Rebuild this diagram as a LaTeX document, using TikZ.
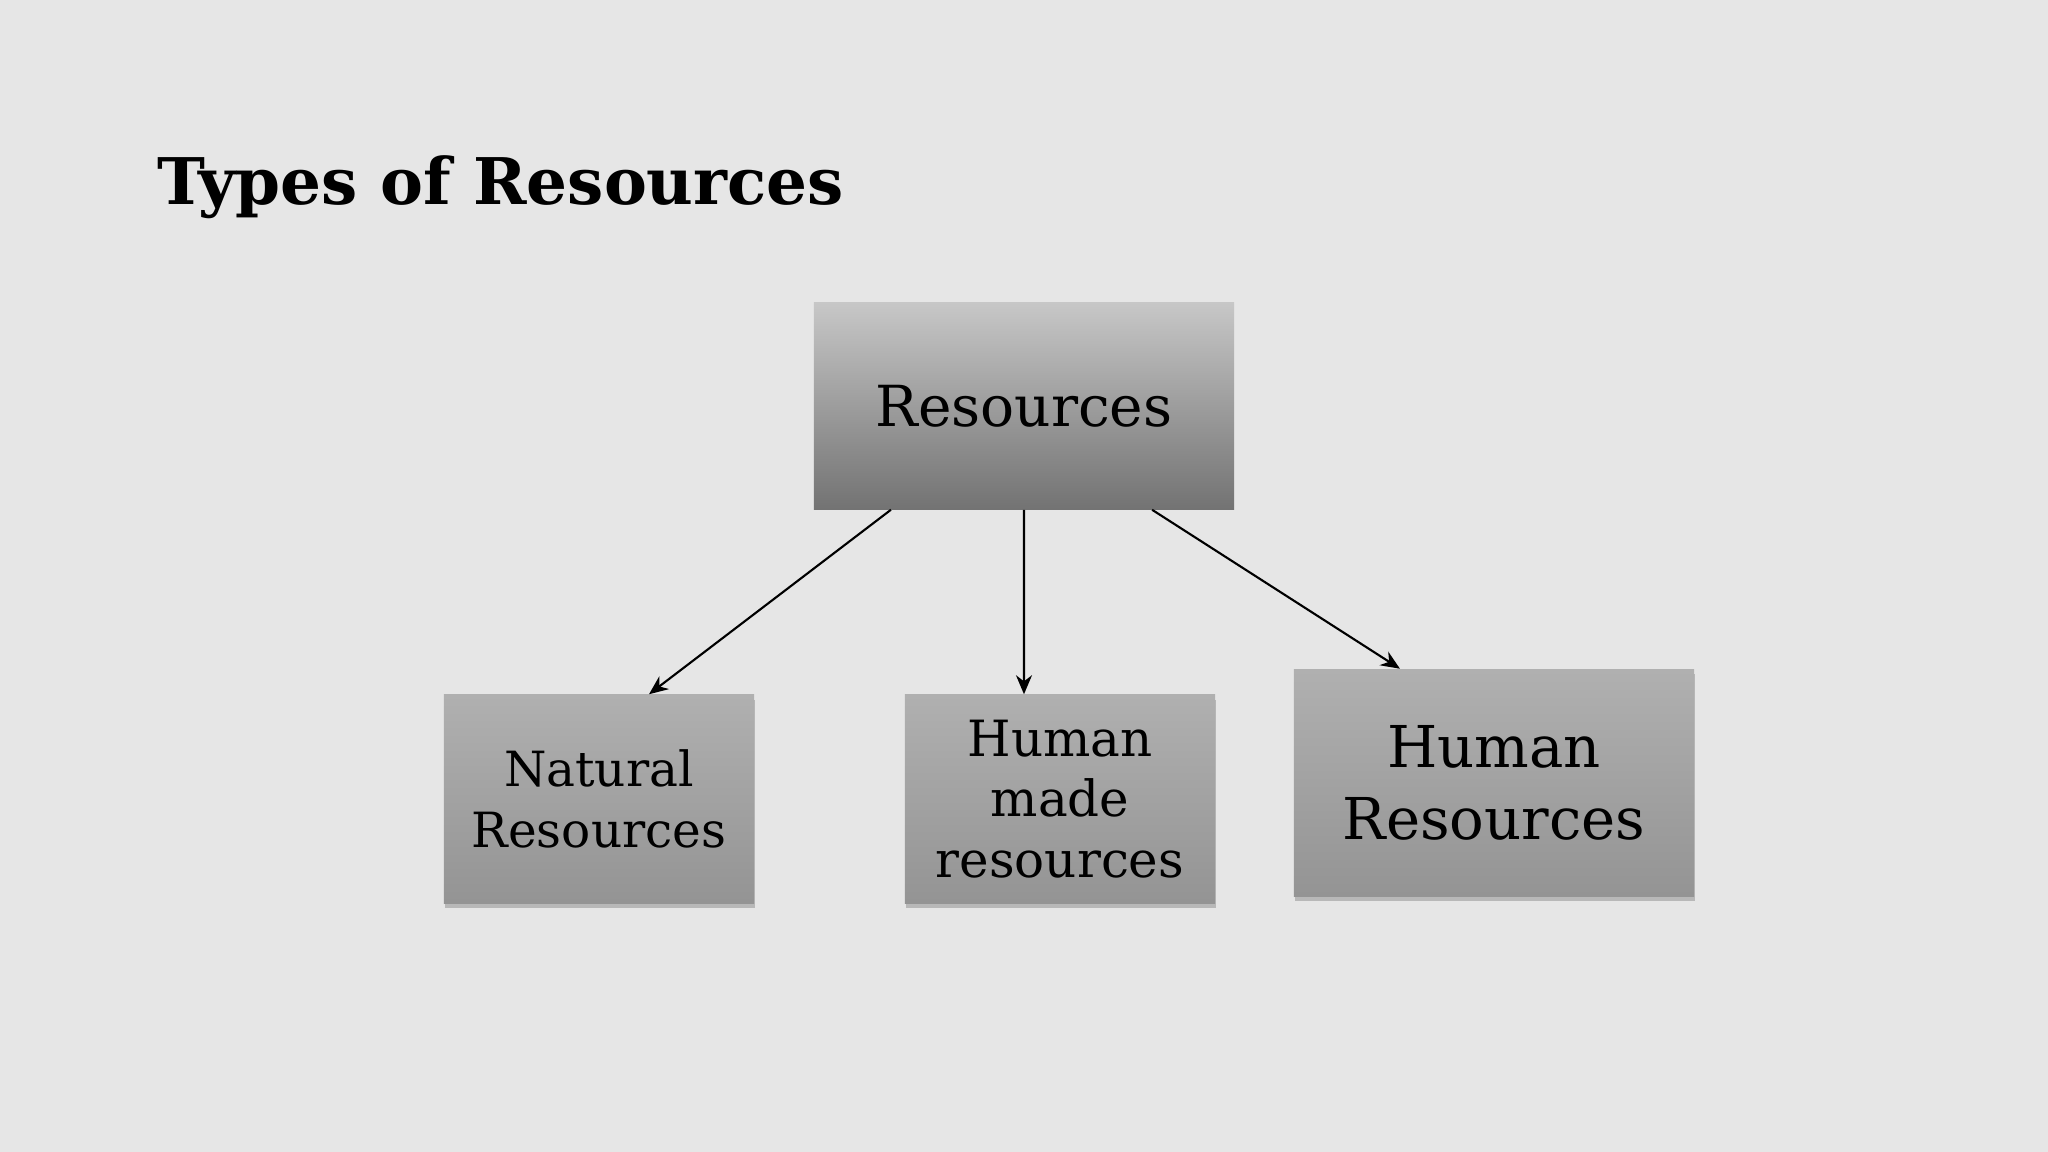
\documentclass[tikz,border=0pt]{standalone}
\usepackage{fontspec}
\setmainfont{DejaVu Serif}
\usepackage{tikz}
\usetikzlibrary{arrows.meta,shadows}
\definecolor{slidebg}{RGB}{230,230,230}
\tikzset{
	topbox/.style={top color=black!22, bottom color=black!55, draw=none, align=center,
		minimum width=4.2cm, minimum height=2.06cm, inner sep=0pt},
	subbox/.style={top color=black!31, bottom color=black!42, draw=none, align=center,
		inner sep=0pt, drop shadow={shadow xshift=0.3pt, shadow yshift=-1.4pt, opacity=0.45}},
	arr/.style={-{Stealth[length=1.9mm,width=1.6mm]}, line width=0.6pt}
}

\begin{document}
\begin{tikzpicture}[x=0.01cm, y=-0.01cm]
		%%%%% START %%%%%
		
		\fill[slidebg] (0, 0) rectangle (2048, 1152);
		\useasboundingbox (0, 0) rectangle (2048, 1152);
		
		\node[anchor=base west, inner sep=0pt, font=\fontsize{18.3}{22}\selectfont\bfseries] (title)
			at (157, 205) {Types of Resources};
		
		\node[topbox, font=\fontsize{16.1}{19}\selectfont] (res) at (1024, 406) {Resources};
		
		\node[subbox, minimum width=3.1cm, minimum height=2.08cm, font=\fontsize{13.8}{17.4}\selectfont]
			(natural) at (599, 799) {Natural\\Resources};
		\node[subbox, minimum width=3.1cm, minimum height=2.08cm, font=\fontsize{14.2}{17.2}\selectfont]
			(humanmade) at (1060, 799) {Human\\made\\resources};
		\node[subbox, minimum width=4.0cm, minimum height=2.27cm, font=\fontsize{16.4}{20.3}\selectfont]
			(humanres) at (1494, 783) {Human\\Resources};
		
		\draw[arr] ([xshift=-1.33cm]res.south) -- ([xshift=0.5cm]natural.north);
		\draw[arr] (res.south) -- ([xshift=-0.36cm]humanmade.north);
		\draw[arr] ([xshift=1.28cm]res.south) -- ([xshift=-0.94cm]humanres.north);
		
		%%%%% END %%%%%
	\end{tikzpicture}
\end{document}
